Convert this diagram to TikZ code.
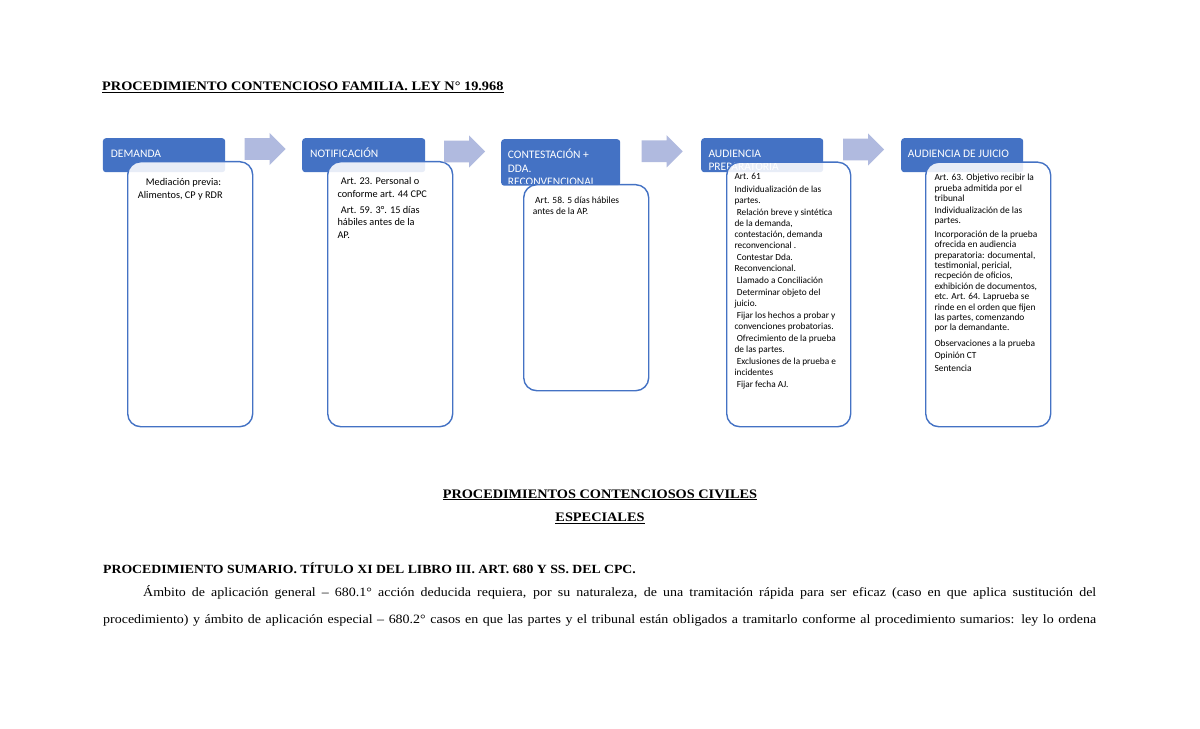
\documentclass[tikz,border=0pt]{standalone}
\usepackage{fontspec}
\setmainfont{Carlito}
\newfontfamily\tnr[FakeStretch=1.1]{Liberation Serif}
\usetikzlibrary{shapes.arrows}
\definecolor{hdrblue}{HTML}{4472C4}
\definecolor{arrowblue}{RGB}{176,186,223}
\newcommand{\linesbox}[1]{\parbox[t]{120bp}{\raggedright #1}}
\begin{document}
\begin{tikzpicture}[x=1bp,y=-1bp,
  hdr/.style={fill=hdrblue, rounded corners=3bp, inner sep=0, anchor=north west},
  bodybox/.style={draw=hdrblue, line width=1.4bp, fill=white, fill opacity=0.88, rounded corners=13bp, inner sep=0, anchor=north west},
  hdrtext/.style={text=white, font=\fontsize{11.5bp}{13.6bp}\selectfont, anchor=base west, inner sep=0},
  boxtext/.style={anchor=base west, inner sep=0, text=black},
  flowarrow/.style={single arrow, fill=arrowblue, draw=none, inner xsep=0, inner ysep=10.75bp, minimum height=41bp, single arrow head extend=5.25bp, anchor=west},
  serifbold/.style={font=\tnr\bfseries\fontsize{13bp}{15bp}\selectfont, inner sep=0},
  serifreg/.style={font=\tnr\fontsize{12.7bp}{15bp}\selectfont, inner sep=0, anchor=base west},
  uline/.style={line width=0.9bp}
]
\useasboundingbox[fill=white] (0,0) rectangle (1200,729);

% title
\node (t1) [serifbold, anchor=base west] at (102,91) {PROCEDIMIENTO CONTENCIOSO FAMILIA. LEY N° 19.968};
\draw[uline] ([yshift=-1.8bp]t1.base west) -- ([yshift=-1.8bp]t1.base east);

% headers
\node (h1) [hdr, minimum width=122.3bp, minimum height=34bp] at (102.7,138) {};
\node (h2) [hdr, minimum width=123bp, minimum height=34bp] at (302,138) {};
\node (h3) [hdr, minimum width=119bp, minimum height=46.5bp] at (501,139) {};
\node (h4) [hdr, minimum width=122bp, minimum height=34bp] at (701,138) {};
\node (h5) [hdr, minimum width=122bp, minimum height=34bp] at (901,138) {};

\node (h1t) [hdrtext] at (110.7,157.7) {DEMANDA};
\node (h2t) [hdrtext] at (310,157.7) {NOTIFICACIÓN};
\begin{scope}
  \clip (501,139) rectangle (620,183.5);
  \node (h3t) [hdrtext] at (507.7,158.7) {\linesbox{CONTESTACIÓN +\\DDA.\\RECONVENCIONAL}};
\end{scope}
\node (h4t) [hdrtext] at (708.3,157.3) {\linesbox{AUDIENCIA\\PREPARATORIA}};
\node (h5t) [hdrtext] at (907.7,157.3) {AUDIENCIA DE JUICIO};

% bodies
\node (b1) [bodybox, minimum width=125bp, minimum height=265bp] at (127,161) {};
\node (b2) [bodybox, minimum width=125bp, minimum height=265bp] at (327,161) {};
\node (b3) [bodybox, minimum width=125bp, minimum height=206bp] at (523,184) {};
\node (b4) [bodybox, minimum width=124bp, minimum height=264.5bp] at (726,161.5) {};
\node (b5) [bodybox, minimum width=125bp, minimum height=264.5bp] at (925,161.5) {};

% body texts
\node (b1t) [boxtext, font=\fontsize{10.3bp}{12.3bp}\selectfont] at (137.7,186)
  {\linesbox{\hspace*{8bp}Mediación previa:\\Alimentos, CP y RDR}};
\node (b2t) [boxtext, font=\fontsize{10.3bp}{12.5bp}\selectfont] at (337.3,185)
  {\linesbox{\hspace*{3.3bp}Art. 23. Personal o\\conforme art. 44 CPC\\[3.5bp]\hspace*{3.3bp}Art. 59. 3°. 15 días\\hábiles antes de la\\AP.}};
\node (b3t) [boxtext, font=\fontsize{9.5bp}{11.4bp}\selectfont] at (532.7,203.3)
  {\linesbox{\hspace*{2.3bp}Art. 58. 5 días hábiles\\antes de la AP.}};
\node (b4t) [boxtext, font=\fontsize{9.3bp}{10.9bp}\selectfont] at (734.3,180)
  {\linesbox{Art. 61\\[1.3bp]
   Individualización de las\\partes.\\[1.3bp]
   \hspace*{2.3bp}Relación breve y sintética\\de la demanda,\\contestación, demanda\\reconvencional .\\[1.3bp]
   \hspace*{2.3bp}Contestar Dda.\\Reconvencional.\\[1.3bp]
   \hspace*{2.3bp}Llamado a Conciliación\\[1.3bp]
   \hspace*{2.3bp}Determinar objeto del\\juicio.\\[1.3bp]
   \hspace*{2.3bp}Fijar los hechos a probar y\\convenciones probatorias.\\[1.3bp]
   \hspace*{2.3bp}Ofrecimiento de la prueba\\de las partes.\\[1.3bp]
   \hspace*{2.3bp}Exclusiones de la prueba e\\incidentes\\[1.3bp]
   \hspace*{2.3bp}Fijar fecha AJ.}};
\node (b5t) [boxtext, font=\fontsize{9.4bp}{10.4bp}\selectfont] at (934.3,181)
  {\linesbox{Art. 63. Objetivo recibir la\\prueba admitida por el\\tribunal\\[1.3bp]
   Individualización de las\\partes.\\[3bp]
   Incorporación de la prueba\\ofrecida en audiencia\\preparatoria: documental,\\testimonial, pericial,\\recpeción de oficios,\\exhibición de documentos,\\etc. Art. 64. Laprueba se\\rinde en el orden que fijen\\las partes, comenzando\\por la demandante.\\[5.3bp]
   Observaciones a la prueba\\[1.7bp]
   Opinión CT\\[2bp]
   Sentencia}};

% arrows
\node (a1) [flowarrow] at (244.5,149) {};
\node (a2) [flowarrow] at (444,151.5) {};
\node (a3) [flowarrow] at (641.5,151.3) {};
\node (a4) [flowarrow] at (843,149.5) {};

% lower text
\node (t2) [serifbold, anchor=base] at (600,498) {PROCEDIMIENTOS CONTENCIOSOS CIVILES};
\draw[uline] ([yshift=-1.8bp]t2.base west) -- ([yshift=-1.8bp]t2.base east);
\node (t3) [serifbold, anchor=base] at (600,521.5) {ESPECIALES};
\draw[uline] ([yshift=-1.8bp]t3.base west) -- ([yshift=-1.8bp]t3.base east);
\node (t4) [serifbold, font=\tnr\bfseries\fontsize{12.5bp}{15bp}\selectfont, anchor=base west] at (103,573)
  {PROCEDIMIENTO SUMARIO. TÍTULO XI DEL LIBRO III. ART. 680 Y SS. DEL CPC.};
\node (p1) [serifreg] at (143,596)
  {\makebox[953bp][s]{Ámbito de aplicación general – 680.1° acción deducida requiera, por su naturaleza, de una tramitación rápida para ser eficaz (caso en que aplica sustitución del}};
\node (p2) [serifreg] at (103,623.3)
  {\makebox[993bp][s]{procedimiento) y ámbito de aplicación especial – 680.2° casos en que las partes y el tribunal están obligados a tramitarlo conforme al procedimiento sumarios: ley lo ordena}};
\end{tikzpicture}
\end{document}
